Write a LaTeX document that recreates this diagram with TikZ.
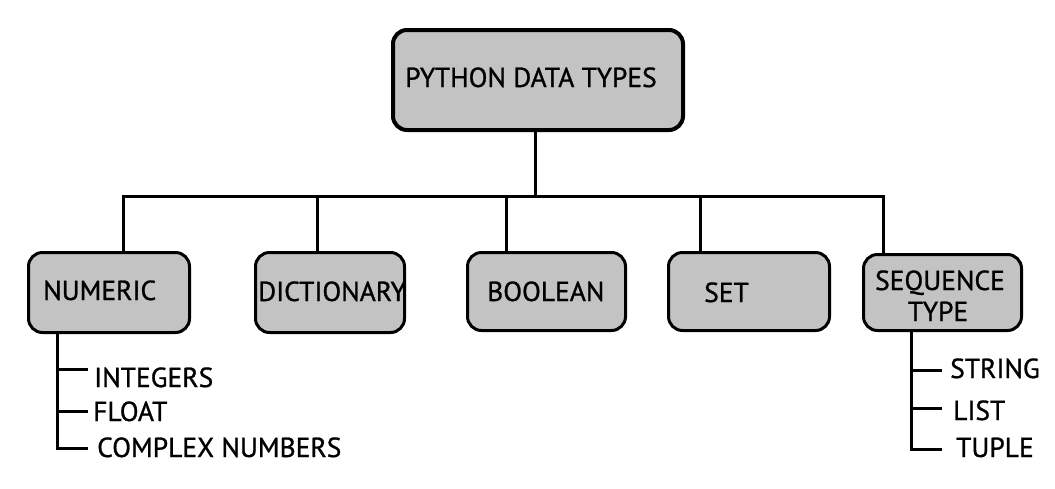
\documentclass[tikz,border=0pt]{standalone}
\usepackage{fontspec}
\setmainfont[FakeBold=1]{PT Sans}
\definecolor{boxgray}{RGB}{195,195,195}
\begin{document}
\begin{tikzpicture}[x=1pt,y=-1pt,
  box/.style={draw=black, fill=boxgray, line width=3pt, rounded corners=14pt, inner sep=0pt},
  lbl/.style={inner sep=0pt, anchor=base west, font=\fontsize{27.5}{27.5}\selectfont},
  clbl/.style={inner sep=0pt, anchor=base, font=\fontsize{27.5}{27.5}\selectfont},
  wire/.style={line width=3pt}]
\useasboundingbox (0,0) rectangle (1055,488);
% boxes
\node[box, line width=4pt, minimum width=290pt, minimum height=100pt] (top) at (538,80) {};
\node[box, minimum width=161pt, minimum height=80pt] (num) at (109,292.5) {};
\node[box, minimum width=149pt, minimum height=80pt] (dict) at (330,292.5) {};
\node[box, minimum width=158pt, minimum height=78pt] (bool) at (546.5,291.5) {};
\node[box, minimum width=161pt, minimum height=78pt] (set) at (749,291.5) {};
\node[box, minimum width=158pt, minimum height=76pt] (seq) at (942.5,292.5) {};
% box texts
\node[lbl] (ttop) at (405,87) {PYTHON DATA TYPES};
\node[lbl] (tnum) at (43,300) {NUMERIC};
\node[lbl] (tdict) at (258,301) {DICTIONARY};
\node[lbl] (tbool) at (487,301) {BOOLEAN};
\node[lbl] (tset) at (704,302) {SET};
\node[clbl] (tseqa) at (940,290) {SEQUENCE};
\node[clbl] (tseqb) at (938,321) {TYPE};
% connectors
\coordinate (jn) at (123,196);
\coordinate (jd) at (317,196);
\coordinate (jb) at (506,196);
\coordinate (jt) at (535,196);
\coordinate (js) at (700,196);
\coordinate (jq) at (883,196);
\draw[wire] (top.south -| jt) -- (jt);
\draw[wire] (jn |- num.north) -- (jn) -- (jq) -- (jq |- seq.north);
\draw[wire] (jd) -- (jd |- dict.north);
\draw[wire] (jb) -- (jb |- bool.north);
\draw[wire] (js) -- (js |- set.north);
% numeric subtree
\node[lbl] (ni) at (94,387) {INTEGERS};
\node[lbl] (nf) at (93,421) {FLOAT};
\node[lbl] (nc) at (97,457) {COMPLEX NUMBERS};
\coordinate (n0) at (57,0);
\coordinate (na) at (57,369);
\coordinate (nb) at (57,411);
\coordinate (ncc) at (57,448);
\draw[wire] (n0 |- num.south) -- (ncc) -- ++(31,0);
\draw[wire] (na) -- ++(31,0);
\draw[wire] (nb) -- ++(31,0);
% sequence subtree
\node[lbl] (ss) at (950,378) {STRING};
\node[lbl] (sl) at (953,420) {LIST};
\node[lbl] (st) at (956,457) {TUPLE};
\coordinate (s0) at (911,0);
\coordinate (sa) at (911,370);
\coordinate (sb) at (911,408);
\coordinate (sc) at (911,449);
\draw[wire] (s0 |- seq.south) -- (sc) -- ++(31,0);
\draw[wire] (sa) -- ++(31,0);
\draw[wire] (sb) -- ++(31,0);
\end{tikzpicture}
\end{document}
